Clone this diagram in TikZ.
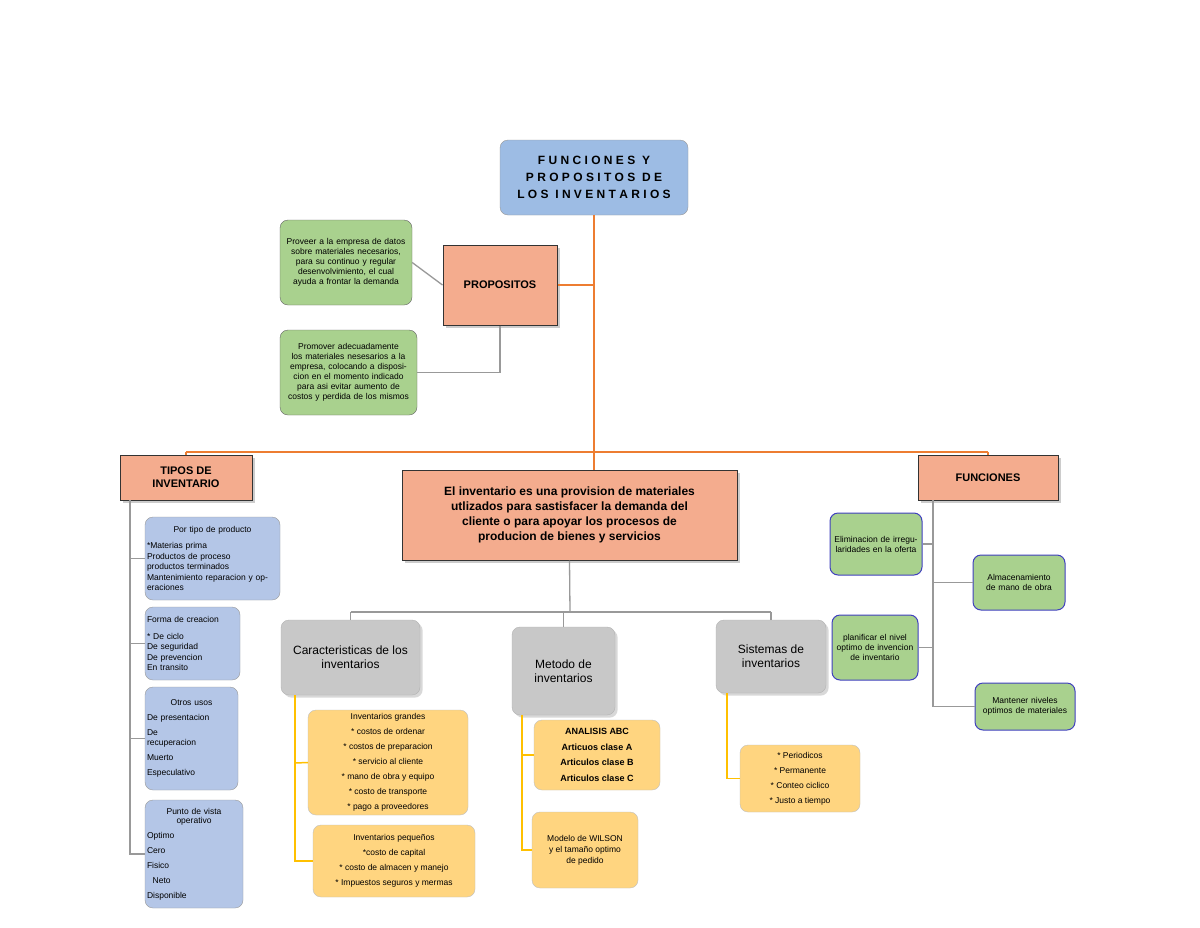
\documentclass[tikz,border=0pt]{standalone}
\usepackage{fontspec}
\setmainfont{Liberation Sans}
\usetikzlibrary{shadows}
\definecolor{bluef}{HTML}{9DBCE4}
\definecolor{blueb}{HTML}{B4C6E7}
\definecolor{salm}{HTML}{F4AC8E}
\definecolor{greenf}{HTML}{A9D18E}
\definecolor{grayf}{HTML}{C8C8C8}
\definecolor{yel}{HTML}{FFD580}
\definecolor{orl}{HTML}{ED7D31}
\definecolor{gol}{HTML}{FFC000}
\begin{document}
\begin{tikzpicture}[x=1pt,y=-1pt,
 box/.style={draw,rounded corners=8pt,align=center,inner sep=2pt},
 sq/.style={draw=black!80,line width=1pt,fill=salm,align=center,font=\bfseries,drop shadow={opacity=0.4}},
 grn/.style={box,draw=black!60,fill=greenf,font=\fontsize{8.5}{10}\selectfont},
 grnb/.style={box,draw=blue!50!gray,line width=1pt,fill=greenf,font=\fontsize{8.5}{10}\selectfont},
 blu/.style={box,draw=black!40,fill=blueb,font=\fontsize{8.5}{10.5}\selectfont},
 gry/.style={box,draw=black!30,fill=grayf,font=\fontsize{12}{14}\selectfont},
 ylw/.style={box,draw=black!25,fill=yel,font=\fontsize{8.5}{15}\selectfont},
 gl/.style={draw=black!40,line width=1.3pt},
 ol/.style={draw=orl,line width=1.5pt},
 yl/.style={draw=gol,line width=1.5pt}]
\useasboundingbox (0,0) rectangle (1200,927);
\fill[white] (0,0) rectangle (1200,927);
% nodes
\node[box,draw=black!40,fill=bluef,minimum width=188,minimum height=75,font=\bfseries\fontsize{12}{17}\selectfont] (tit) at (594,177.5) {F U N C I O N E S \ Y\\P R O P O S I T O S \ D E\\L O S \ I N V E N T A R I O S};
\node[sq,minimum width=114,minimum height=80,font=\bfseries\fontsize{11}{13}\selectfont] (prop) at (500,285) {PROPOSITOS};
\node[grn,minimum width=132,minimum height=85,text width=126] (g1) at (346,262.5) {Proveer a la empresa de datos sobre materiales necesarios, para su continuo y regular desenvolvimiento, el cual ayuda a frontar la demanda};
\node[grn,minimum width=137,minimum height=85,text width=133] (g2) at (348.5,372.5) {Promover adecuadamente los materiales nesesarios a la empresa, colocando a disposicion en el momento indicado para asi evitar aumento de costos y perdida de los mismos};
\node[sq,minimum width=132,minimum height=45,font=\bfseries\fontsize{11}{13}\selectfont] (tipos) at (186,477.5) {TIPOS DE\\INVENTARIO};
\node[sq,minimum width=335,minimum height=90,font=\bfseries\fontsize{12}{15}\selectfont] (main) at (569.5,515) {El inventario es una provision de materiales\\utlizados para sastisfacer la demanda del\\cliente o para apoyar los procesos de\\producion de bienes y servicios};
\node[sq,minimum width=140,minimum height=45,font=\bfseries\fontsize{11}{13}\selectfont] (fun) at (988,477.5) {FUNCIONES};
% blue boxes
\node[blu,minimum width=135,minimum height=83,text width=131,align=left] (b1) at (212.5,558.5) {\centerline{Por tipo de producto}\\[6pt]*Materias prima\\*Productos de proceso\\* productos terminados\\*Mantenimiento reparacion y operaciones};
\node[blu,minimum width=95,minimum height=73,text width=91,align=left] (b2) at (192.5,643.5) {Forma de creacion\\[6pt]* De ciclo\\* De seguridad\\* De prevencion\\* En transito};
\node[blu,minimum width=93,minimum height=103,text width=89,align=left,font=\fontsize{8.5}{15}\selectfont] (b3) at (191.5,738.5) {\centerline{Otros usos}\\* De presentacion\\* De\\[-5pt]recuperacion\\* Muerto\\* Especulativo};
\node[blu,minimum width=98,minimum height=108,text width=94,align=left,font=\fontsize{8.5}{15}\selectfont] (b4) at (194,854) {\centerline{\shortstack{Punto de vista\\operativo}}\\*Optimo\\* Cero\\* Fisico\\*\ \ Neto\\* Disponible};
% gray boxes
\node[gry,minimum width=139,minimum height=75,drop shadow={opacity=0.3}] (car) at (350.5,657.5) {Caracteristicas de los\\inventarios};
\node[gry,minimum width=103,minimum height=88,drop shadow={opacity=0.3}] (met) at (563.5,671) {Metodo de\\inventarios};
\node[gry,minimum width=110,minimum height=73,drop shadow={opacity=0.3}] (sis) at (771,656.5) {Sistemas de\\inventarios};
% yellow
\node[ylw,minimum width=160,minimum height=105] (y1) at (388,762.5) {Inventarios grandes\\* costos de ordenar\\* costos de preparacion\\* servicio al cliente\\* mano de obra y equipo\\* costo de transporte\\* pago a proveedores};
\node[ylw,minimum width=162,minimum height=72] (y2) at (394,861) {Inventarios pequeños\\*costo de capital\\* costo de almacen y manejo\\* Impuestos seguros y mermas};
\node[ylw,minimum width=126,minimum height=70,font=\bfseries\fontsize{9}{15.5}\selectfont] (abc) at (597,755) {ANALISIS ABC\\Articuos clase A\\Articulos clase B\\Articulos clase C};
\node[ylw,minimum width=106,minimum height=76,font=\fontsize{8.5}{11}\selectfont] (wil) at (585,850) {Modelo de WILSON\\y el tamaño optimo\\de pedido};
\node[ylw,minimum width=120,minimum height=67] (per) at (800,778.5) {* Periodicos\\* Permanente\\* Conteo ciclico\\* Justo a tiempo};
% green funciones
\node[grnb,minimum width=92,minimum height=62,text width=86] (f1) at (876,544) {Eliminacion de irregularidades en la oferta};
\node[grnb,minimum width=92,minimum height=55,text width=86] (f2) at (1019,582.5) {Almacenamiento de mano de obra};
\node[grnb,minimum width=86,minimum height=65,text width=80] (f3) at (875,647.5) {planificar el nivel optimo de invencion de inventario};
\node[grnb,minimum width=100,minimum height=47,text width=94] (f4) at (1025,706.5) {Mantener niveles optimos de materiales};
% coordinates
\coordinate (top) at (595,452);
% connectors
\draw[gl] (g1.east) ++(0,0) -- (prop.west);
\draw[gl] (prop.south) |- (g2.east);
\draw[ol] (tit.south) -- (main.north -| tit.south);
\draw[ol] (prop.east) -- (prop.east -| tit.south);
\draw[ol] (tipos.north |- top) -- (fun.north |- top);
\draw[ol] (tipos.north |- top) -- (tipos.north);
\draw[ol] (fun.north |- top) -- (fun.north);
\draw[gl] (130,500) -- (130,855);
\foreach \b in {b1,b2,b3,b4} \draw[gl] (\b.west) -- (\b.west -| 130,0);
\draw[gl] (main.south) -- (570,612);
\draw[gl] (car.north |- 0,612) -- (sis.north |- 0,612);
\draw[gl] (car.north |- 0,612) -- (car.north);
\draw[gl] (met.north |- 0,612) -- (met.north);
\draw[gl] (sis.north |- 0,612) -- (sis.north);
\draw[yl] (295,695) |- (y2.west);
\draw[yl] (295,763) -- (y1.west);
\draw[yl] (522,715) |- (wil.west);
\draw[yl] (522,755) -- (abc.west);
\draw[yl] (727,693) |- (per.west);
\draw[gl] (933,500) |- (f4.west);
\draw[gl] (f1.east) -- (933,544);
\draw[gl] (f2.west) -- (933,582.5);
\draw[gl] (f3.east) -- (933,647.5);
\end{tikzpicture}
\end{document}
